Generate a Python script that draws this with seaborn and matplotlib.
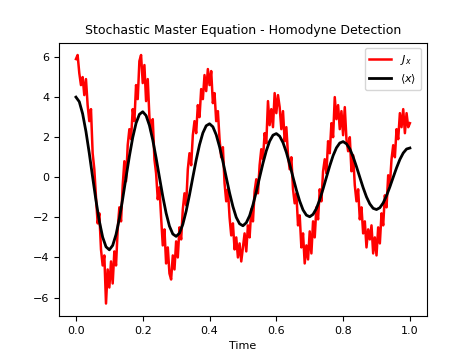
import numpy as np
import pandas as pd
import matplotlib
matplotlib.use("Agg")
import matplotlib.pyplot as plt
import seaborn as sns

# <x> curve, read every 0.01 in time
t_mean = np.round(np.arange(0, 101) * 0.01, 3)
x_mean = [
    4.00, 3.77, 3.17, 2.28, 1.19, 0.00, -1.16, -2.19, -2.99, -3.47,
    -3.62, -3.40, -2.86, -2.06, -1.07, 0.00, 1.05, 1.98, 2.70, 3.14,
    3.27, 3.08, 2.59, 1.86, 0.97, 0.00, -0.95, -1.79, -2.44, -2.83,
    -2.95, -2.79, -2.35, -1.69, -0.88, 0.00, 0.86, 1.62, 2.21, 2.57,
    2.67, 2.52, 2.12, 1.52, 0.79, 0.00, -0.78, -1.46, -2.00, -2.32,
    -2.42, -2.27, -1.92, -1.38, -0.72, 0.00, 0.70, 1.32, 1.80, 2.10,
    2.18, 2.05, 1.73, 1.25, 0.65, 0.00, -0.63, -1.19, -1.63, -1.89,
    -1.97, -1.85, -1.56, -1.12, -0.58, 0.00, 0.57, 1.08, 1.47, 1.71,
    1.78, 1.67, 1.42, 1.02, 0.53, 0.00, -0.52, -0.98, -1.33, -1.55,
    -1.61, -1.52, -1.28, -0.92, -0.48, 0.00, 0.47, 0.89, 1.21, 1.41,
    1.46,
]

# J_x record, read every 0.005 in time
t_meas = np.round(np.arange(0, 201) * 0.005, 4)
j_x = [
    5.9, 6.1, 5.2, 4.6, 5.0, 4.1, 4.9, 3.6, 2.8, 3.4,
    1.2, 0.4, -1.0, -2.3, -1.8, -3.6, -4.4, -3.9, -6.3, -4.6,
    -5.5, -4.2, -5.3, -3.7, -4.4, -2.6, -1.5, -2.2, -0.4, 0.8,
    -0.2, 1.6, 2.4, 1.9, 3.4, 2.8, 4.6, 3.9, 5.8, 6.1,
    4.7, 5.6, 3.8, 4.9, 3.0, 2.3, 2.9, 0.9, 0.2, -1.1,
    -0.5, -2.0, -3.4, -2.6, -4.3, -3.5, -4.8, -5.1, -3.9, -4.6,
    -3.2, -4.0, -2.5, -3.1, -1.6, -0.8, -1.4, 0.4, 1.2, 0.6,
    2.1, 2.8, 2.2, 3.6, 3.0, 4.4, 3.9, 5.1, 4.3, 5.4,
    4.6, 5.3, 3.7, 4.2, 2.8, 3.3, 1.9, 1.0, 1.5, -0.3,
    -1.2, -0.6, -2.0, -2.9, -2.3, -3.6, -3.0, -4.0, -3.3, -4.2,
    -3.5, -2.8, -3.7, -2.4, -3.0, -1.6, -2.2, -0.7, -0.1, -0.8,
    0.6, 1.4, 0.9, 2.2, 1.7, 3.8, 2.6, 3.4, 2.5, 4.2,
    3.2, 4.1, 3.5, 2.4, 3.3, 1.8, 2.5, 1.1, 0.4, 1.0,
    -0.6, -1.3, -0.8, -2.4, -1.9, -3.5, -2.8, -4.3, -3.4, -4.1,
    -2.7, -3.8, -2.2, -3.0, -1.5, -2.1, -0.6, -1.2, 0.3, 0.9,
    0.2, 1.8, 1.2, 2.7, 2.0, 4.0, 2.9, 3.6, 2.4, 3.3,
    2.1, 3.5, 1.9, 1.3, 2.0, 0.3, 1.1, -0.4, -1.2, -0.6,
    -2.1, -1.5, -2.8, -2.2, -3.5, -2.6, -3.1, -2.4, -3.8, -3.0,
    -3.9, -2.5, -3.3, -1.8, -2.4, -0.9, -1.5, 0.1, -0.4, 0.9,
    1.6, 1.0, 2.4, 1.9, 3.2, 2.5, 3.4, 2.2, 3.2, 2.5,
    2.7,
]

df_meas = pd.DataFrame({"Time": t_meas, "J": j_x})
df_mean = pd.DataFrame({"Time": t_mean, "x": x_mean})

fig, ax = plt.subplots(figsize=(4.74, 3.55), dpi=100)

sns.lineplot(data=df_meas, x="Time", y="J", color="red", linewidth=1.8,
             label=r"$J_x$", ax=ax)
sns.lineplot(data=df_mean, x="Time", y="x", color="black", linewidth=2,
             label=r"$\langle x \rangle$", ax=ax)

ax.set_title("Stochastic Master Equation - Homodyne Detection", fontsize=9)
ax.set_xlabel("Time", fontsize=8)
ax.set_ylabel("")
ax.set_yticks([-6, -4, -2, 0, 2, 4, 6])
ax.tick_params(labelsize=8)
ax.legend(loc="upper right", fontsize=8)

fig.savefig("out.png", dpi=100)
